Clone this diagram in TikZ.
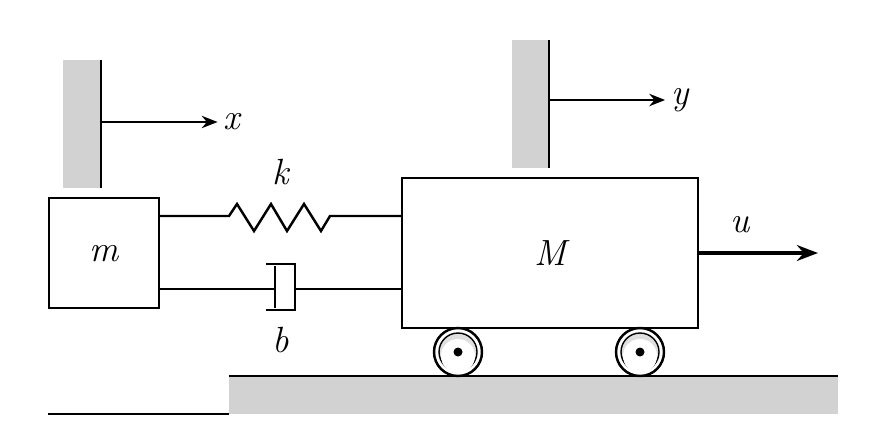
\documentclass[tikz,border=0pt]{standalone}
\usetikzlibrary{arrows.meta}
\begin{document}
\begin{tikzpicture}[x=0.02cm,y=-0.02cm,
  ln/.style={line width=1.4pt},
  lab/.style={font=\itshape\huge},
  arr/.style={ln,-{Stealth[length=9pt,width=7pt]}}]
\useasboundingbox (0,0) rectangle (888,447);
% left wall
\fill[gray!35] (63,60) rectangle (100,188);
\draw[ln] (101,60) -- (101,188);
\coordinate (xs) at (101,122);
\node[lab] (xl) at (232,122) {x};
\draw[arr] (xs) -- (xl.west);
% right wall
\fill[gray!35] (512,40) rectangle (548,168);
\draw[ln] (549,40) -- (549,168);
\coordinate (ys) at (549,100);
\node[lab] (yl) at (680,100) {y};
\draw[arr] (ys) -- (yl.west);
% masses
\node[draw,ln,minimum width=2.2cm,minimum height=2.2cm,anchor=north west,inner sep=0] (m) at (48,197) {};
\node[lab] at (m.center) {m};
\node[draw,ln,minimum width=5.92cm,minimum height=3cm,anchor=north west,inner sep=0] (M) at (401,177) {};
\node[lab] at (550,253) {M};
% spring
\draw[ln] (158,216) -- (229,216) -- (237,204) -- (254,231) -- (271,204) -- (287,231) -- (304,204) -- (321,231) -- (330,216) -- (401,216);
\node[lab] at (281,172) {k};
% damper
\draw[ln] (158,289) -- (275,289);
\draw[ln] (275,266) -- (275,308);
\draw[ln] (266,264) -- (295,264) -- (295,310) -- (266,310);
\draw[ln] (295,289) -- (401,289);
\node[lab] at (281,340) {b};
% force
\coordinate (us) at (697,253);
\coordinate (ue) at (818,253);
\draw[line width=2.4pt,-{Stealth[length=12pt,width=9pt]}] (us) -- (ue);
\node[lab] at (740,225) {u};
% ground
\fill[gray!35] (229,376) rectangle (838,414);
\draw[ln] (229,376) -- (838,376);
\draw[line width=0.6pt] (48,414) -- (229,414);
% wheels
\foreach \cx in {458,640}{
  \draw[ln,fill=white] (\cx,352) circle (24);
  \draw[line width=0.8pt,fill=gray!25] (\cx,352) circle (19);
  \fill[white] (\cx,356) circle (17);
  \fill (\cx,352) circle (4.5);
}
\end{tikzpicture}
\end{document}
